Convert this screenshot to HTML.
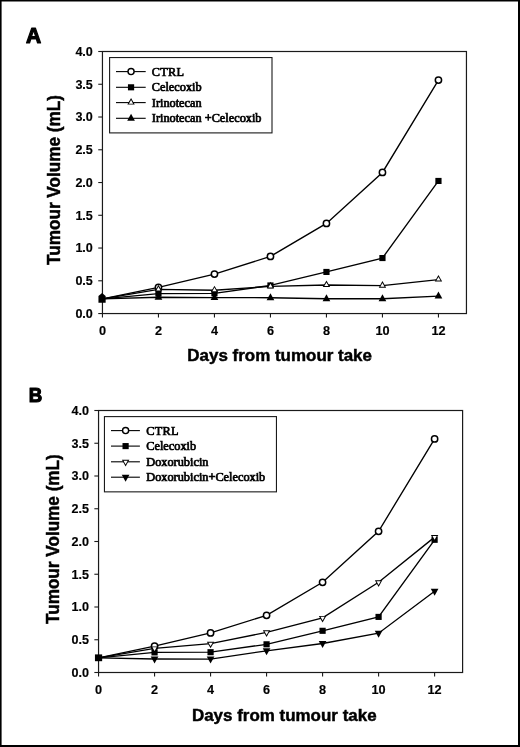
<!DOCTYPE html>
<html lang="en">
<head>
<meta charset="utf-8">
<title>Tumour volume figure</title>
<style>
html,body{margin:0;padding:0;background:#fff;}
body{width:520px;height:747px;overflow:hidden;}
svg{display:block;}
</style>
</head>
<body>
<svg width="520" height="747" viewBox="0 0 520 747">
<rect x="0" y="0" width="520" height="747" fill="#fff"/>
<path d="M0 0H520V747H0Z M1.6 1.5V745H518V1.5Z" fill="#000" fill-rule="evenodd"/>
<text transform="translate(25.9,42.8) scale(1.0,1.02)" font-family='"Liberation Sans", Arial, Helvetica, sans-serif' font-weight="bold" font-size="21" stroke="#000" stroke-width="1.2" stroke-linejoin="round">A</text>
<rect x="102.45" y="51.5" width="364" height="262.05" fill="none" stroke="#1a1a1a" stroke-width="1.2"/>
<line x1="98.25" y1="313.55" x2="102.45" y2="313.55" stroke="#1a1a1a" stroke-width="1.1"/>
<text transform="translate(92.85,317.85) scale(1.04,1)" text-anchor="end" font-family='"Liberation Sans", Arial, Helvetica, sans-serif' font-weight="bold" font-size="12.1" stroke="#000" stroke-width="0.15">0.0</text>
<line x1="98.25" y1="280.79" x2="102.45" y2="280.79" stroke="#1a1a1a" stroke-width="1.1"/>
<text transform="translate(92.85,285.09) scale(1.04,1)" text-anchor="end" font-family='"Liberation Sans", Arial, Helvetica, sans-serif' font-weight="bold" font-size="12.1" stroke="#000" stroke-width="0.15">0.5</text>
<line x1="98.25" y1="248.04" x2="102.45" y2="248.04" stroke="#1a1a1a" stroke-width="1.1"/>
<text transform="translate(92.85,252.34) scale(1.04,1)" text-anchor="end" font-family='"Liberation Sans", Arial, Helvetica, sans-serif' font-weight="bold" font-size="12.1" stroke="#000" stroke-width="0.15">1.0</text>
<line x1="98.25" y1="215.28" x2="102.45" y2="215.28" stroke="#1a1a1a" stroke-width="1.1"/>
<text transform="translate(92.85,219.58) scale(1.04,1)" text-anchor="end" font-family='"Liberation Sans", Arial, Helvetica, sans-serif' font-weight="bold" font-size="12.1" stroke="#000" stroke-width="0.15">1.5</text>
<line x1="98.25" y1="182.53" x2="102.45" y2="182.53" stroke="#1a1a1a" stroke-width="1.1"/>
<text transform="translate(92.85,186.83) scale(1.04,1)" text-anchor="end" font-family='"Liberation Sans", Arial, Helvetica, sans-serif' font-weight="bold" font-size="12.1" stroke="#000" stroke-width="0.15">2.0</text>
<line x1="98.25" y1="149.77" x2="102.45" y2="149.77" stroke="#1a1a1a" stroke-width="1.1"/>
<text transform="translate(92.85,154.07) scale(1.04,1)" text-anchor="end" font-family='"Liberation Sans", Arial, Helvetica, sans-serif' font-weight="bold" font-size="12.1" stroke="#000" stroke-width="0.15">2.5</text>
<line x1="98.25" y1="117.01" x2="102.45" y2="117.01" stroke="#1a1a1a" stroke-width="1.1"/>
<text transform="translate(92.85,121.31) scale(1.04,1)" text-anchor="end" font-family='"Liberation Sans", Arial, Helvetica, sans-serif' font-weight="bold" font-size="12.1" stroke="#000" stroke-width="0.15">3.0</text>
<line x1="98.25" y1="84.26" x2="102.45" y2="84.26" stroke="#1a1a1a" stroke-width="1.1"/>
<text transform="translate(92.85,88.56) scale(1.04,1)" text-anchor="end" font-family='"Liberation Sans", Arial, Helvetica, sans-serif' font-weight="bold" font-size="12.1" stroke="#000" stroke-width="0.15">3.5</text>
<line x1="98.25" y1="51.5" x2="102.45" y2="51.5" stroke="#1a1a1a" stroke-width="1.1"/>
<text transform="translate(92.85,55.8) scale(1.04,1)" text-anchor="end" font-family='"Liberation Sans", Arial, Helvetica, sans-serif' font-weight="bold" font-size="12.1" stroke="#000" stroke-width="0.15">4.0</text>
<line x1="102.45" y1="313.55" x2="102.45" y2="317.55" stroke="#1a1a1a" stroke-width="1.1"/>
<text transform="translate(102.45,334.75) scale(1.05,1)" text-anchor="middle" font-family='"Liberation Sans", Arial, Helvetica, sans-serif' font-weight="bold" font-size="12.1" stroke="#000" stroke-width="0.15">0</text>
<line x1="158.45" y1="313.55" x2="158.45" y2="317.55" stroke="#1a1a1a" stroke-width="1.1"/>
<text transform="translate(158.45,334.75) scale(1.05,1)" text-anchor="middle" font-family='"Liberation Sans", Arial, Helvetica, sans-serif' font-weight="bold" font-size="12.1" stroke="#000" stroke-width="0.15">2</text>
<line x1="214.45" y1="313.55" x2="214.45" y2="317.55" stroke="#1a1a1a" stroke-width="1.1"/>
<text transform="translate(214.45,334.75) scale(1.05,1)" text-anchor="middle" font-family='"Liberation Sans", Arial, Helvetica, sans-serif' font-weight="bold" font-size="12.1" stroke="#000" stroke-width="0.15">4</text>
<line x1="270.45" y1="313.55" x2="270.45" y2="317.55" stroke="#1a1a1a" stroke-width="1.1"/>
<text transform="translate(270.45,334.75) scale(1.05,1)" text-anchor="middle" font-family='"Liberation Sans", Arial, Helvetica, sans-serif' font-weight="bold" font-size="12.1" stroke="#000" stroke-width="0.15">6</text>
<line x1="326.45" y1="313.55" x2="326.45" y2="317.55" stroke="#1a1a1a" stroke-width="1.1"/>
<text transform="translate(326.45,334.75) scale(1.05,1)" text-anchor="middle" font-family='"Liberation Sans", Arial, Helvetica, sans-serif' font-weight="bold" font-size="12.1" stroke="#000" stroke-width="0.15">8</text>
<line x1="382.45" y1="313.55" x2="382.45" y2="317.55" stroke="#1a1a1a" stroke-width="1.1"/>
<text transform="translate(382.45,334.75) scale(1.05,1)" text-anchor="middle" font-family='"Liberation Sans", Arial, Helvetica, sans-serif' font-weight="bold" font-size="12.1" stroke="#000" stroke-width="0.15">10</text>
<line x1="438.45" y1="313.55" x2="438.45" y2="317.55" stroke="#1a1a1a" stroke-width="1.1"/>
<text transform="translate(438.45,334.75) scale(1.05,1)" text-anchor="middle" font-family='"Liberation Sans", Arial, Helvetica, sans-serif' font-weight="bold" font-size="12.1" stroke="#000" stroke-width="0.15">12</text>
<polyline fill="none" stroke="#000" stroke-width="1.35" points="102.45,298.95 158.45,287.35 214.45,274.05 270.45,256.45 326.45,223.45 382.45,172.45 438.45,80.05"/>
<circle cx="158.45" cy="287.35" r="3.15" fill="#fff" stroke="#000" stroke-width="1.5"/>
<circle cx="214.45" cy="274.05" r="3.15" fill="#fff" stroke="#000" stroke-width="1.5"/>
<circle cx="270.45" cy="256.45" r="3.15" fill="#fff" stroke="#000" stroke-width="1.5"/>
<circle cx="326.45" cy="223.45" r="3.15" fill="#fff" stroke="#000" stroke-width="1.5"/>
<circle cx="382.45" cy="172.45" r="3.15" fill="#fff" stroke="#000" stroke-width="1.5"/>
<circle cx="438.45" cy="80.05" r="3.15" fill="#fff" stroke="#000" stroke-width="1.5"/>
<polyline fill="none" stroke="#000" stroke-width="1.35" points="102.45,298.95 158.45,293.55 214.45,293.35 270.45,285.45 326.45,271.95 382.45,258.05 438.45,180.95"/>
<polygon points="102.05,293.05 105.65,296.05 105.65,302.65 98.45,302.65 98.45,296.05" fill="#000"/>
<rect x="155.35" y="290.5" width="6.2" height="6.1" fill="#000"/>
<rect x="211.35" y="290.3" width="6.2" height="6.1" fill="#000"/>
<rect x="267.35" y="282.4" width="6.2" height="6.1" fill="#000"/>
<rect x="323.35" y="268.9" width="6.2" height="6.1" fill="#000"/>
<rect x="379.35" y="255" width="6.2" height="6.1" fill="#000"/>
<rect x="435.35" y="177.9" width="6.2" height="6.1" fill="#000"/>
<polyline fill="none" stroke="#000" stroke-width="1.35" points="102.45,298.95 158.45,289.35 214.45,290.25 270.45,286.35 326.45,285.05 382.45,285.65 438.45,279.55"/>
<polygon points="158.45,284.75 162.15,291.35 154.75,291.35" fill="#000"/><polygon points="158.45,286.69 160.53,290.4 156.37,290.4" fill="#fff"/>
<polygon points="214.45,285.65 218.15,292.25 210.75,292.25" fill="#000"/><polygon points="214.45,287.59 216.53,291.3 212.37,291.3" fill="#fff"/>
<polygon points="270.45,281.75 274.15,288.35 266.75,288.35" fill="#000"/><polygon points="270.45,283.69 272.53,287.4 268.37,287.4" fill="#fff"/>
<polygon points="326.45,280.45 330.15,287.05 322.75,287.05" fill="#000"/><polygon points="326.45,282.39 328.53,286.1 324.37,286.1" fill="#fff"/>
<polygon points="382.45,281.05 386.15,287.65 378.75,287.65" fill="#000"/><polygon points="382.45,282.99 384.53,286.7 380.37,286.7" fill="#fff"/>
<polygon points="438.45,274.95 442.15,281.55 434.75,281.55" fill="#000"/><polygon points="438.45,276.89 440.53,280.6 436.37,280.6" fill="#fff"/>
<polyline fill="none" stroke="#000" stroke-width="1.35" points="102.45,298.95 158.45,297.25 214.45,297.55 270.45,297.75 326.45,298.75 382.45,298.75 438.45,296.05"/>
<polygon points="158.45,292.75 162.3,299.75 154.6,299.75" fill="#000"/>
<polygon points="214.45,293.05 218.3,300.05 210.6,300.05" fill="#000"/>
<polygon points="270.45,293.25 274.3,300.25 266.6,300.25" fill="#000"/>
<polygon points="326.45,294.25 330.3,301.25 322.6,301.25" fill="#000"/>
<polygon points="382.45,294.25 386.3,301.25 378.6,301.25" fill="#000"/>
<polygon points="438.45,291.55 442.3,298.55 434.6,298.55" fill="#000"/>
<rect x="109.6" y="57.55" width="162.4" height="75.35" fill="#fff" stroke="#1a1a1a" stroke-width="1.1"/>
<line x1="116" y1="71.6" x2="145.7" y2="71.6" stroke="#000" stroke-width="1.1"/>
<circle cx="131.05" cy="71.6" r="3.05" fill="#fff" stroke="#000" stroke-width="1.4"/>
<text x="151.8" y="75.7" font-family='"Liberation Serif", "Times New Roman", Times, serif' font-size="12.3" stroke="#000" stroke-width="0.7" letter-spacing="0.25">CTRL</text>
<line x1="116" y1="87.3" x2="145.7" y2="87.3" stroke="#000" stroke-width="1.1"/>
<g transform="translate(131.05,87.3) scale(1.0) translate(-131.05,-87.3)"><rect x="127.95" y="84.25" width="6.2" height="6.1" fill="#000"/></g>
<text x="151.8" y="91.4" font-family='"Liberation Serif", "Times New Roman", Times, serif' font-size="12.3" stroke="#000" stroke-width="0.7">Celecoxib</text>
<line x1="116" y1="102.6" x2="145.7" y2="102.6" stroke="#000" stroke-width="1.1"/>
<g transform="translate(131.05,102.6) scale(1.0) translate(-131.05,-102.6)"><polygon points="131.05,98 134.75,104.6 127.35,104.6" fill="#000"/><polygon points="131.05,99.94 133.13,103.65 128.97,103.65" fill="#fff"/></g>
<text x="151.8" y="106.7" font-family='"Liberation Serif", "Times New Roman", Times, serif' font-size="12.3" stroke="#000" stroke-width="0.7">Irinotecan</text>
<line x1="116" y1="118.3" x2="145.7" y2="118.3" stroke="#000" stroke-width="1.1"/>
<g transform="translate(131.05,118.3) scale(1.0) translate(-131.05,-118.3)"><polygon points="131.05,113.8 134.9,120.8 127.2,120.8" fill="#000"/></g>
<text x="151.8" y="122.4" font-family='"Liberation Serif", "Times New Roman", Times, serif' font-size="12.3" stroke="#000" stroke-width="0.7">Irinotecan +Celecoxib</text>
<text transform="translate(187.3,360.8) scale(1.035,1)" font-family='"Liberation Sans", Arial, Helvetica, sans-serif' font-weight="bold" font-size="16.4" stroke="#000" stroke-width="0.45">Days from tumour take</text>
<text transform="translate(59.7,264.9) rotate(-90) scale(0.98,1)" font-family='"Liberation Sans", Arial, Helvetica, sans-serif' font-weight="bold" font-size="17.5" stroke="#000" stroke-width="0.45">Tumour Volume (mL)</text>
<text transform="translate(28.7,401.5) scale(0.89,0.97)" font-family='"Liberation Sans", Arial, Helvetica, sans-serif' font-weight="bold" font-size="21" stroke="#000" stroke-width="1.2" stroke-linejoin="round">B</text>
<rect x="98.55" y="410.5" width="364.05" height="262" fill="none" stroke="#1a1a1a" stroke-width="1.2"/>
<line x1="94.35" y1="672.5" x2="98.55" y2="672.5" stroke="#1a1a1a" stroke-width="1.1"/>
<text transform="translate(88.95,676.8) scale(1.04,1)" text-anchor="end" font-family='"Liberation Sans", Arial, Helvetica, sans-serif' font-weight="bold" font-size="12.1" stroke="#000" stroke-width="0.15">0.0</text>
<line x1="94.35" y1="639.75" x2="98.55" y2="639.75" stroke="#1a1a1a" stroke-width="1.1"/>
<text transform="translate(88.95,644.05) scale(1.04,1)" text-anchor="end" font-family='"Liberation Sans", Arial, Helvetica, sans-serif' font-weight="bold" font-size="12.1" stroke="#000" stroke-width="0.15">0.5</text>
<line x1="94.35" y1="607" x2="98.55" y2="607" stroke="#1a1a1a" stroke-width="1.1"/>
<text transform="translate(88.95,611.3) scale(1.04,1)" text-anchor="end" font-family='"Liberation Sans", Arial, Helvetica, sans-serif' font-weight="bold" font-size="12.1" stroke="#000" stroke-width="0.15">1.0</text>
<line x1="94.35" y1="574.25" x2="98.55" y2="574.25" stroke="#1a1a1a" stroke-width="1.1"/>
<text transform="translate(88.95,578.55) scale(1.04,1)" text-anchor="end" font-family='"Liberation Sans", Arial, Helvetica, sans-serif' font-weight="bold" font-size="12.1" stroke="#000" stroke-width="0.15">1.5</text>
<line x1="94.35" y1="541.5" x2="98.55" y2="541.5" stroke="#1a1a1a" stroke-width="1.1"/>
<text transform="translate(88.95,545.8) scale(1.04,1)" text-anchor="end" font-family='"Liberation Sans", Arial, Helvetica, sans-serif' font-weight="bold" font-size="12.1" stroke="#000" stroke-width="0.15">2.0</text>
<line x1="94.35" y1="508.75" x2="98.55" y2="508.75" stroke="#1a1a1a" stroke-width="1.1"/>
<text transform="translate(88.95,513.05) scale(1.04,1)" text-anchor="end" font-family='"Liberation Sans", Arial, Helvetica, sans-serif' font-weight="bold" font-size="12.1" stroke="#000" stroke-width="0.15">2.5</text>
<line x1="94.35" y1="476" x2="98.55" y2="476" stroke="#1a1a1a" stroke-width="1.1"/>
<text transform="translate(88.95,480.3) scale(1.04,1)" text-anchor="end" font-family='"Liberation Sans", Arial, Helvetica, sans-serif' font-weight="bold" font-size="12.1" stroke="#000" stroke-width="0.15">3.0</text>
<line x1="94.35" y1="443.25" x2="98.55" y2="443.25" stroke="#1a1a1a" stroke-width="1.1"/>
<text transform="translate(88.95,447.55) scale(1.04,1)" text-anchor="end" font-family='"Liberation Sans", Arial, Helvetica, sans-serif' font-weight="bold" font-size="12.1" stroke="#000" stroke-width="0.15">3.5</text>
<line x1="94.35" y1="410.5" x2="98.55" y2="410.5" stroke="#1a1a1a" stroke-width="1.1"/>
<text transform="translate(88.95,414.8) scale(1.04,1)" text-anchor="end" font-family='"Liberation Sans", Arial, Helvetica, sans-serif' font-weight="bold" font-size="12.1" stroke="#000" stroke-width="0.15">4.0</text>
<line x1="98.55" y1="672.5" x2="98.55" y2="676.5" stroke="#1a1a1a" stroke-width="1.1"/>
<text transform="translate(98.55,693.7) scale(1.05,1)" text-anchor="middle" font-family='"Liberation Sans", Arial, Helvetica, sans-serif' font-weight="bold" font-size="12.1" stroke="#000" stroke-width="0.15">0</text>
<line x1="154.56" y1="672.5" x2="154.56" y2="676.5" stroke="#1a1a1a" stroke-width="1.1"/>
<text transform="translate(154.56,693.7) scale(1.05,1)" text-anchor="middle" font-family='"Liberation Sans", Arial, Helvetica, sans-serif' font-weight="bold" font-size="12.1" stroke="#000" stroke-width="0.15">2</text>
<line x1="210.57" y1="672.5" x2="210.57" y2="676.5" stroke="#1a1a1a" stroke-width="1.1"/>
<text transform="translate(210.57,693.7) scale(1.05,1)" text-anchor="middle" font-family='"Liberation Sans", Arial, Helvetica, sans-serif' font-weight="bold" font-size="12.1" stroke="#000" stroke-width="0.15">4</text>
<line x1="266.57" y1="672.5" x2="266.57" y2="676.5" stroke="#1a1a1a" stroke-width="1.1"/>
<text transform="translate(266.57,693.7) scale(1.05,1)" text-anchor="middle" font-family='"Liberation Sans", Arial, Helvetica, sans-serif' font-weight="bold" font-size="12.1" stroke="#000" stroke-width="0.15">6</text>
<line x1="322.58" y1="672.5" x2="322.58" y2="676.5" stroke="#1a1a1a" stroke-width="1.1"/>
<text transform="translate(322.58,693.7) scale(1.05,1)" text-anchor="middle" font-family='"Liberation Sans", Arial, Helvetica, sans-serif' font-weight="bold" font-size="12.1" stroke="#000" stroke-width="0.15">8</text>
<line x1="378.59" y1="672.5" x2="378.59" y2="676.5" stroke="#1a1a1a" stroke-width="1.1"/>
<text transform="translate(378.59,693.7) scale(1.05,1)" text-anchor="middle" font-family='"Liberation Sans", Arial, Helvetica, sans-serif' font-weight="bold" font-size="12.1" stroke="#000" stroke-width="0.15">10</text>
<line x1="434.6" y1="672.5" x2="434.6" y2="676.5" stroke="#1a1a1a" stroke-width="1.1"/>
<text transform="translate(434.6,693.7) scale(1.05,1)" text-anchor="middle" font-family='"Liberation Sans", Arial, Helvetica, sans-serif' font-weight="bold" font-size="12.1" stroke="#000" stroke-width="0.15">12</text>
<polyline fill="none" stroke="#000" stroke-width="1.35" points="98.55,657.8 154.56,646.2 210.57,632.9 266.57,615.3 322.58,582.3 378.59,531.3 434.6,438.9"/>
<circle cx="154.56" cy="646.2" r="3.15" fill="#fff" stroke="#000" stroke-width="1.5"/>
<circle cx="210.57" cy="632.9" r="3.15" fill="#fff" stroke="#000" stroke-width="1.5"/>
<circle cx="266.57" cy="615.3" r="3.15" fill="#fff" stroke="#000" stroke-width="1.5"/>
<circle cx="322.58" cy="582.3" r="3.15" fill="#fff" stroke="#000" stroke-width="1.5"/>
<circle cx="378.59" cy="531.3" r="3.15" fill="#fff" stroke="#000" stroke-width="1.5"/>
<circle cx="434.6" cy="438.9" r="3.15" fill="#fff" stroke="#000" stroke-width="1.5"/>
<polyline fill="none" stroke="#000" stroke-width="1.35" points="98.55,657.8 154.56,652.4 210.57,652.2 266.57,644.3 322.58,630.8 378.59,616.9 434.6,539.8"/>
<rect x="94.95" y="654.4" width="7.2" height="6.8" fill="#000"/>
<rect x="151.46" y="649.35" width="6.2" height="6.1" fill="#000"/>
<rect x="207.47" y="649.15" width="6.2" height="6.1" fill="#000"/>
<rect x="263.47" y="641.25" width="6.2" height="6.1" fill="#000"/>
<rect x="319.48" y="627.75" width="6.2" height="6.1" fill="#000"/>
<rect x="375.49" y="613.85" width="6.2" height="6.1" fill="#000"/>
<rect x="431.5" y="536.75" width="6.2" height="6.1" fill="#000"/>
<polyline fill="none" stroke="#000" stroke-width="1.35" points="98.55,657.8 154.56,648.4 210.57,643.7 266.57,632.3 322.58,617.9 378.59,582.3 434.6,537.1"/>
<polygon points="154.56,653 158.26,646.4 150.86,646.4" fill="#000"/><polygon points="154.56,651.06 156.64,647.35 152.48,647.35" fill="#fff"/>
<polygon points="210.57,648.3 214.27,641.7 206.87,641.7" fill="#000"/><polygon points="210.57,646.36 212.64,642.65 208.49,642.65" fill="#fff"/>
<polygon points="266.57,636.9 270.27,630.3 262.87,630.3" fill="#000"/><polygon points="266.57,634.96 268.65,631.25 264.49,631.25" fill="#fff"/>
<polygon points="322.58,622.5 326.28,615.9 318.88,615.9" fill="#000"/><polygon points="322.58,620.56 324.66,616.85 320.5,616.85" fill="#fff"/>
<polygon points="378.59,586.9 382.29,580.3 374.89,580.3" fill="#000"/><polygon points="378.59,584.96 380.67,581.25 376.51,581.25" fill="#fff"/>
<polygon points="434.6,541.7 438.3,535.1 430.9,535.1" fill="#000"/><polygon points="434.6,539.76 436.67,536.05 432.52,536.05" fill="#fff"/>
<polyline fill="none" stroke="#000" stroke-width="1.35" points="98.55,657.8 154.56,659 210.57,659.1 266.57,650.8 322.58,643.5 378.59,633.2 434.6,591.3"/>
<polygon points="154.56,663.5 158.41,656.5 150.71,656.5" fill="#000"/>
<polygon points="210.57,663.6 214.42,656.6 206.72,656.6" fill="#000"/>
<polygon points="266.57,655.3 270.42,648.3 262.72,648.3" fill="#000"/>
<polygon points="322.58,648 326.43,641 318.73,641" fill="#000"/>
<polygon points="378.59,637.7 382.44,630.7 374.74,630.7" fill="#000"/>
<polygon points="434.6,595.8 438.45,588.8 430.75,588.8" fill="#000"/>
<rect x="104.45" y="416.6" width="172" height="75.25" fill="#fff" stroke="#1a1a1a" stroke-width="1.1"/>
<line x1="111" y1="430.6" x2="139.9" y2="430.6" stroke="#000" stroke-width="1.1"/>
<circle cx="125.6" cy="430.6" r="3.05" fill="#fff" stroke="#000" stroke-width="1.4"/>
<text x="146.3" y="434.7" font-family='"Liberation Serif", "Times New Roman", Times, serif' font-size="12.3" stroke="#000" stroke-width="0.7" letter-spacing="0.25">CTRL</text>
<line x1="111" y1="446.1" x2="139.9" y2="446.1" stroke="#000" stroke-width="1.1"/>
<g transform="translate(125.6,446.1) scale(1.0) translate(-125.6,-446.1)"><rect x="122.5" y="443.05" width="6.2" height="6.1" fill="#000"/></g>
<text x="146.3" y="450.2" font-family='"Liberation Serif", "Times New Roman", Times, serif' font-size="12.3" stroke="#000" stroke-width="0.7">Celecoxib</text>
<line x1="111" y1="461.8" x2="139.9" y2="461.8" stroke="#000" stroke-width="1.1"/>
<g transform="translate(125.6,461.8) scale(1.0) translate(-125.6,-461.8)"><polygon points="125.6,466.4 129.3,459.8 121.9,459.8" fill="#000"/><polygon points="125.6,464.46 127.68,460.75 123.52,460.75" fill="#fff"/></g>
<text x="146.3" y="465.9" font-family='"Liberation Serif", "Times New Roman", Times, serif' font-size="12.3" stroke="#000" stroke-width="0.7">Doxorubicin</text>
<line x1="111" y1="477.2" x2="139.9" y2="477.2" stroke="#000" stroke-width="1.1"/>
<g transform="translate(125.6,477.2) scale(1.0) translate(-125.6,-477.2)"><polygon points="125.6,481.7 129.45,474.7 121.75,474.7" fill="#000"/></g>
<text x="146.3" y="481.3" font-family='"Liberation Serif", "Times New Roman", Times, serif' font-size="12.3" stroke="#000" stroke-width="0.7">Doxorubicin+Celecoxib</text>
<text transform="translate(191.9,720.6) scale(1.035,1)" font-family='"Liberation Sans", Arial, Helvetica, sans-serif' font-weight="bold" font-size="16.4" stroke="#000" stroke-width="0.45">Days from tumour take</text>
<text transform="translate(59.2,624) rotate(-90) scale(0.98,1)" font-family='"Liberation Sans", Arial, Helvetica, sans-serif' font-weight="bold" font-size="17.5" stroke="#000" stroke-width="0.45">Tumour Volume (mL)</text>
</svg>
</body>
</html>
